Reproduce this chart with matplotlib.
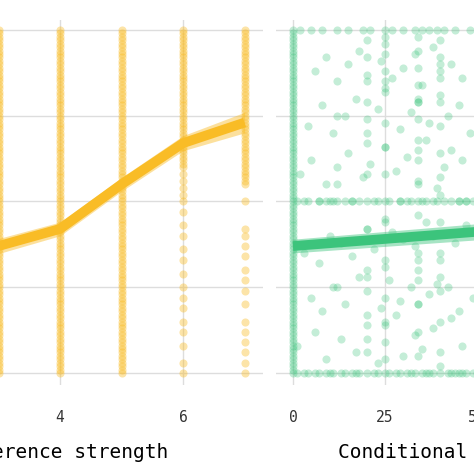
import matplotlib
matplotlib.use("Agg")
import matplotlib.pyplot as plt

YEL = "#F9BC26"
GRN = "#3CC47C"
plt.rcParams['font.family'] = ['DejaVu Sans Mono']

DENSE = [0, 1, 2, 3, 4, 5, 6, 7, 8, 9, 10, 11, 12, 13, 14, 15, 16, 17, 18, 19, 20,
         21, 22, 23, 24, 25, 26, 27, 28, 29, 30, 31, 32, 33, 34, 35, 36, 37, 38, 39, 40,
         41, 42, 43, 44, 45, 46, 47, 48, 49, 50, 51, 52, 53, 54, 55, 56, 57, 58, 59, 60,
         61, 62, 63, 64, 65, 66, 67, 68, 69, 70, 71, 72, 73, 74, 75, 76, 77, 78, 79, 80,
         81, 82, 83, 84, 85, 86, 87, 88, 89, 90, 91, 92, 93, 94, 95, 96, 97, 98, 99, 100]
UPPER6 = [60, 61, 62, 63, 64, 65, 66, 67, 68, 69, 70, 71, 72, 73, 74, 75, 76, 77, 78, 79,
          80, 81, 82, 83, 84, 85, 86, 87, 88, 89, 90, 91, 92, 93, 94, 95, 96, 97, 98, 99, 100]
UPPER7 = [55, 56, 57, 58, 59, 60, 61, 62, 63, 64, 65, 66, 67, 68, 69, 70, 71, 72, 73, 74, 75,
          76, 77, 78, 79, 80, 81, 82, 83, 84, 85, 86, 87, 88, 89, 90, 91, 92, 93, 94, 95,
          96, 97, 98, 99, 100]

# Left panel: preference strength (discrete) vs outcome
pref_x_levels = [1, 2, 3, 4, 5, 6, 7]
pref_y = {
    1: [0, 5, 12, 20, 25, 33, 40, 50, 58, 66, 75, 83, 92, 100],
    2: [0, 4, 10, 18, 25, 30, 38, 45, 50, 57, 64, 70, 75, 82, 90, 100],
    3: DENSE,
    4: DENSE,
    5: DENSE,
    6: UPPER6 + [0, 3, 8, 12, 15, 19, 22, 25, 29, 33, 36, 40, 43, 47, 50, 52, 54, 56, 58],
    7: UPPER7 + [0, 3, 6, 9, 12, 15, 20, 24, 27, 30, 34, 37, 40, 42, 50],
}
pref_fit_x = [1, 2, 3, 4, 5, 6, 7]
pref_fit_y = [29, 33, 37, 42, 55, 67, 73]
pref_fit_se = [4, 3, 2.2, 2, 2, 2.2, 3]

# Right panel: conditional (continuous) vs outcome
cond_x = DENSE and [0]*101 + [
    3, 6, 10, 14, 17, 20, 22, 25, 28, 31, 33, 36, 38, 40, 42, 44, 46, 50, 55, 60,
    2, 5, 8, 12, 15, 19, 21, 25, 27, 30, 33, 35, 37, 39, 41, 44, 48, 53, 58, 65,
    4, 7, 10, 12, 16, 20, 22, 25, 29, 31, 34, 36, 39, 41, 45, 47, 52, 57, 62,
    1, 6, 9, 13, 17, 20, 23, 25, 28, 30, 33, 35, 38, 40, 43, 46, 51,
    5, 8, 11, 14, 18, 20, 24, 26, 29, 32, 34, 37, 39, 42, 45, 49,
    3, 7, 10, 13, 16, 20, 22, 25, 27, 30, 33, 36, 38, 40, 44, 47,
    2, 5, 9, 12, 15, 19, 21, 25, 28, 31, 34, 36, 39, 41, 43, 46,
    4, 8, 11, 14, 17, 20, 23, 25, 29, 32, 34, 37, 40, 42, 45, 48,
    6, 9, 12, 15, 18, 20, 24, 25, 27, 30, 33, 35, 38, 40, 43, 46,
    20, 20, 20, 25, 25, 25, 34, 34, 34, 34, 40, 40, 40, 12, 12, 12,
    1, 4, 7, 9, 11, 13, 16, 18, 23, 26, 29, 32, 35, 37, 43, 45, 47, 49, 51, 54,
    1, 3, 7, 9, 11, 14, 16, 18, 23, 26, 29, 32, 35, 38, 43, 45, 47, 49, 52, 56,
    34, 34, 34, 34, 34, 34, 34, 34, 34, 34, 34, 34, 34, 34, 34, 34,
    25, 25, 25, 25, 25, 25, 25, 25, 25, 25, 25, 25,
    40, 40, 40, 40, 40, 40, 40, 40, 40, 40, 40, 40,
    20, 20, 20, 20, 20, 20, 20, 20, 20, 20,
]
cond_y = DENSE + [
    0, 0, 0, 0, 0, 0, 0, 0, 0, 0, 0, 0, 0, 0, 0, 0, 0, 0, 0, 0,
    100, 100, 100, 100, 100, 100, 100, 100, 100, 100, 100, 100, 100, 100, 100, 100, 100, 100, 100, 100,
    50, 50, 50, 50, 50, 50, 50, 50, 50, 50, 50, 50, 50, 50, 50, 50, 50, 50, 50,
    8, 12, 4, 10, 6, 14, 3, 9, 17, 5, 11, 7, 13, 2, 16, 8, 12,
    22, 18, 25, 20, 28, 24, 19, 27, 21, 25, 30, 23, 26, 25, 18, 22,
    35, 32, 40, 38, 34, 42, 36, 33, 41, 39, 37, 44, 40, 35, 38, 43,
    58, 62, 55, 60, 64, 57, 61, 66, 59, 63, 56, 68, 54, 60, 65, 62,
    72, 78, 70, 75, 80, 74, 77, 83, 71, 76, 79, 73, 81, 75, 78, 70,
    88, 92, 85, 90, 94, 87, 91, 96, 86, 89, 93, 84, 95, 88, 90, 86,
    10, 30, 70, 15, 45, 85, 20, 35, 65, 80, 28, 52, 90, 25, 55, 75,
    0, 0, 0, 0, 0, 0, 0, 0, 0, 0, 0, 0, 0, 0, 0, 0, 0, 0, 0, 0,
    50, 50, 50, 50, 50, 50, 50, 50, 50, 50, 50, 50, 50, 50, 50, 50, 50, 50, 50, 50,
    5, 12, 20, 27, 33, 40, 46, 55, 62, 68, 74, 79, 84, 89, 94, 98,
    4, 14, 22, 31, 44, 58, 66, 73, 82, 88, 93, 98,
    6, 15, 24, 33, 44, 57, 64, 72, 79, 86, 92, 97,
    6, 17, 28, 42, 58, 67, 79, 85, 92, 97,
]
cond_fit_x = [0, 72]
cond_fit_y = [37, 43]
cond_fit_se = [2, 2.5]

fig = plt.figure(figsize=(4.74, 4.74), dpi=100)
H = 474.0
def ax_at(l, r, t, b):
    return fig.add_axes([l/474, (H-b)/H, (r-l)/474, (b-t)/H])

def style(ax):
    ax.set_facecolor("white")
    for s in ax.spines.values():
        s.set_visible(False)
    ax.grid(True, color="#dddddd", linewidth=1)
    ax.set_axisbelow(True)
    ax.tick_params(length=0, labelsize=10.5, colors="#333333", pad=18)
    ax.set_yticks([0, 25, 50, 75, 100])
    ax.set_yticklabels([])

axL = ax_at(-90, 263, 20, 385)
style(axL)
for xv in pref_x_levels:
    ys = pref_y[xv]
    axL.scatter([xv]*len(ys), ys, s=34, color=YEL, alpha=0.4, linewidths=0)
lo = [m - s for m, s in zip(pref_fit_y, pref_fit_se)]
hi = [m + s for m, s in zip(pref_fit_y, pref_fit_se)]
axL.fill_between(pref_fit_x, lo, hi, color=YEL, alpha=0.45, linewidth=0)
axL.plot(pref_fit_x, pref_fit_y, color=YEL, linewidth=7, solid_capstyle="butt")
axL.set_xlim(1.561, 7.30)
axL.set_ylim(-3.5, 102.9)
axL.set_xticks([2, 4, 6])
axL.set_xlabel("Preference strength", fontsize=14)
axL.xaxis.set_label_coords(0.414, -0.16)

axR = ax_at(276, 560, 20, 385)
style(axR)
axR.scatter(cond_x, cond_y, s=34, color=GRN, alpha=0.3, linewidths=0)
lo = [m - s for m, s in zip(cond_fit_y, cond_fit_se)]
hi = [m + s for m, s in zip(cond_fit_y, cond_fit_se)]
axR.fill_between(cond_fit_x, lo, hi, color=GRN, alpha=0.45, linewidth=0)
axR.plot(cond_fit_x, cond_fit_y, color=GRN, linewidth=7, solid_capstyle="butt")
axR.set_xlim(-4.6, 72.5)
axR.set_ylim(-3.5, 102.9)
axR.set_xticks([0, 25, 50])
axR.set_xlabel("Conditional probability", fontsize=14)
axR.xaxis.set_label_coords(0.218, -0.16)
axR.xaxis.label.set_horizontalalignment("left")

fig.savefig("out.png", dpi=100)
